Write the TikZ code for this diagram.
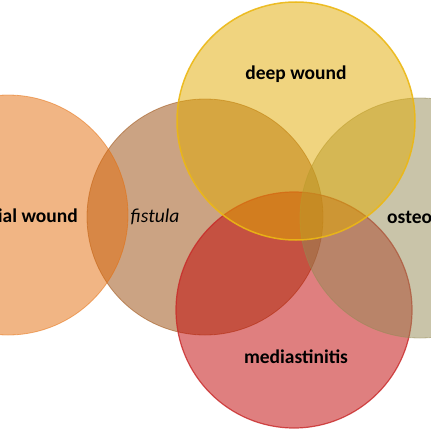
\documentclass[tikz,border=0pt]{standalone}
\usepackage{fontspec}
\setmainfont{Carlito}
\definecolor{cleft}{RGB}{228,108,10}
\definecolor{cfist}{RGB}{152,72,7}
\definecolor{cred}{RGB}{192,0,0}
\definecolor{costeo}{RGB}{148,138,84}
\definecolor{cyel}{RGB}{225,170,0}
\definecolor{cyelline}{RGB}{236,184,20}
\definecolor{credline}{RGB}{200,40,40}
\begin{document}
\begin{tikzpicture}[x=1pt,y=-1pt,
  venn/.style={circle,inner sep=0pt,fill opacity=0.5,draw opacity=0.5,line width=0.8pt},
  lbl/.style={font=\fontsize{19.5}{22}\selectfont\bfseries,text=black,inner sep=0pt,anchor=base},
  lbli/.style={font=\fontsize{19.5}{22}\selectfont\itshape,text=black,inner sep=0pt,anchor=base}]
\useasboundingbox (0,0) rectangle (431,431);
\clip (0,0) rectangle (431,431);
\node[venn,fill=cfist,draw=cfist,minimum size=236pt] (fist) at (205,217) {};
\node[venn,fill=cleft,draw=cleft,minimum size=240pt] (left) at (8,215) {};
\node[venn,fill=cred,draw=credline,draw opacity=0.8,line width=1.2pt,minimum size=236pt] (red) at (294,310) {};
\node[venn,fill=costeo,draw=costeo,minimum size=240pt] (osteo) at (420,218) {};
\node[venn,fill=cyel,draw=cyelline,draw opacity=0.9,line width=1.5pt,minimum size=238pt] (yel) at (296,121) {};
\node[lbl,anchor=base east] (tleft) at (78,222) {superficial wound};
\node[lbli] (tfist) at (155,222) {fistula};
\node[lbl] (tdeep) at (296,79) {deep wound};
\node[lbl] (tmed) at (296,363) {mediastinitis};
\node[lbl,anchor=base west] (tosteo) at (387,223) {osteomyelitis};
\end{tikzpicture}
\end{document}
